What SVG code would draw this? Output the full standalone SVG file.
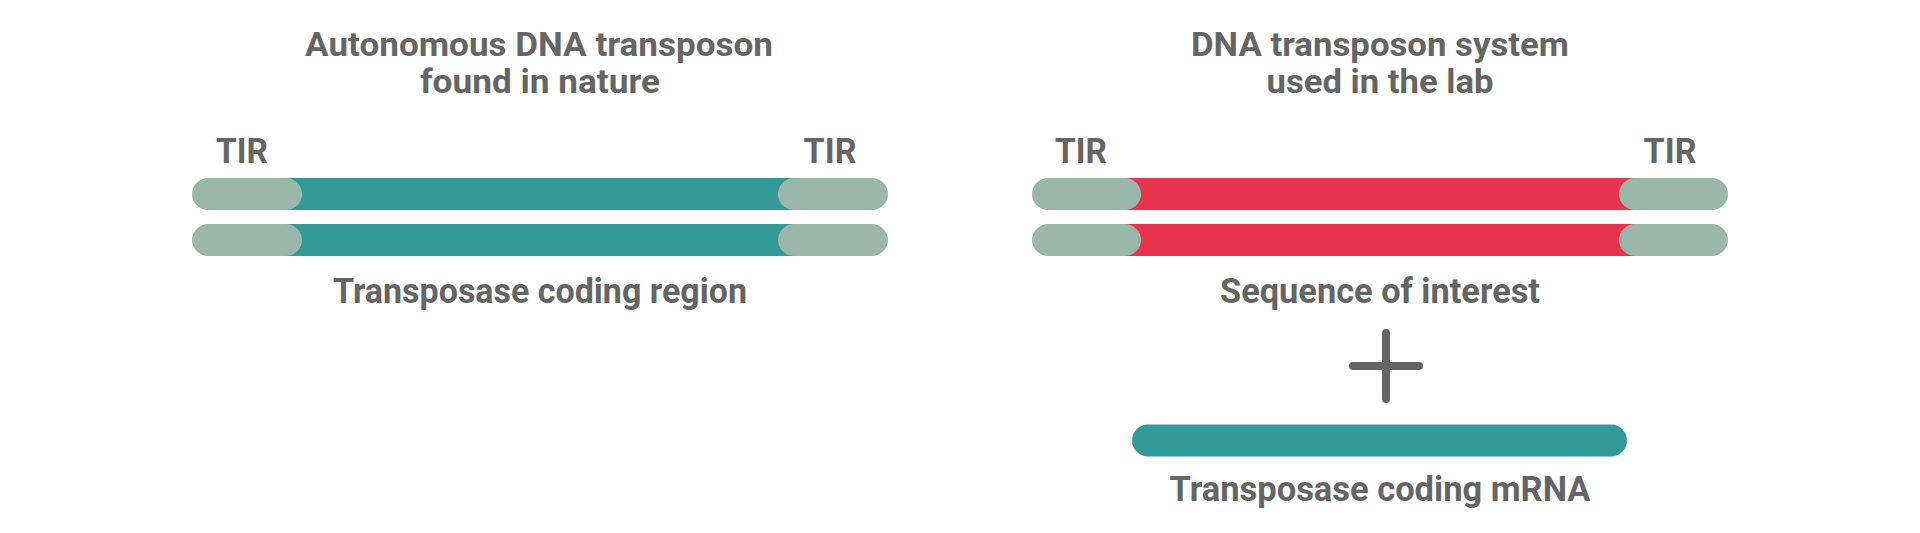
<svg xmlns="http://www.w3.org/2000/svg" width="1920" height="533" viewBox="0 0 1920 533">
  <style>
    text { font-family: "Roboto", "Liberation Sans", sans-serif; font-weight: 700; fill: #656565; text-anchor: middle; }
    .title { font-size: 34px; }
    .lbl { font-size: 35px; }
    .tir { font-size: 35px; }
    .cap { fill: #9bb7ab; }
    .teal { fill: #339999; }
    .red { fill: #e8344c; }
  </style>
  <rect width="1920" height="533" fill="#ffffff"/>

  <g id="title-left">
    <text class="title" x="539" y="56" textLength="468" lengthAdjust="spacingAndGlyphs">Autonomous DNA transposon</text>
    <text class="title" x="540" y="93" textLength="240" lengthAdjust="spacingAndGlyphs">found in nature</text>
  </g>
  <g id="title-right">
    <text class="title" x="1380" y="56" textLength="378" lengthAdjust="spacingAndGlyphs">DNA transposon system</text>
    <text class="title" x="1380" y="93" textLength="227" lengthAdjust="spacingAndGlyphs">used in the lab</text>
  </g>

  <g id="natural-transposon">
    <text class="tir" x="242" y="163" textLength="52" lengthAdjust="spacingAndGlyphs">TIR</text>
    <text class="tir" x="830" y="163" textLength="53" lengthAdjust="spacingAndGlyphs">TIR</text>
    <rect class="teal" x="270" y="178" width="540" height="32" rx="16"/>
    <rect class="teal" x="258" y="224" width="552" height="32" rx="16"/>
    <rect class="cap" x="192" y="178" width="110" height="32" rx="16"/>
    <rect class="cap" x="778" y="178" width="110" height="32" rx="16"/>
    <rect class="cap" x="192" y="224" width="110" height="32" rx="16"/>
    <rect class="cap" x="778" y="224" width="110" height="32" rx="16"/>
    <text class="lbl" x="540" y="303" textLength="414" lengthAdjust="spacingAndGlyphs">Transposase coding region</text>
  </g>

  <g id="lab-transposon">
    <text class="tir" x="1081" y="163" textLength="52" lengthAdjust="spacingAndGlyphs">TIR</text>
    <text class="tir" x="1670" y="163" textLength="53" lengthAdjust="spacingAndGlyphs">TIR</text>
    <rect class="red" x="1110" y="178" width="540" height="32" rx="16"/>
    <rect class="red" x="1100" y="224" width="550" height="32" rx="16"/>
    <rect class="cap" x="1032" y="178" width="109" height="32" rx="16"/>
    <rect class="cap" x="1619" y="178" width="109" height="32" rx="16"/>
    <rect class="cap" x="1032" y="224" width="109" height="32" rx="16"/>
    <rect class="cap" x="1619" y="224" width="109" height="32" rx="16"/>
    <text class="lbl" x="1380" y="303" textLength="320" lengthAdjust="spacingAndGlyphs">Sequence of interest</text>
  </g>

  <g id="plus">
    <path d="M1353 366 H1419 M1386 333 V399" stroke="#656565" stroke-width="8" stroke-linecap="round" fill="none"/>
  </g>

  <g id="mrna">
    <rect class="teal" x="1132" y="424.5" width="495" height="32" rx="16"/>
    <text class="lbl" x="1380" y="501" textLength="421" lengthAdjust="spacingAndGlyphs">Transposase coding mRNA</text>
  </g>

  <g id="connectors"></g>
</svg>
